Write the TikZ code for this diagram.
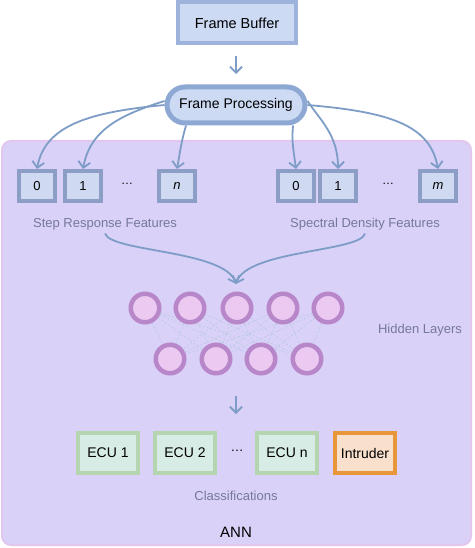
\documentclass[tikz,border=0pt]{standalone}
\usepackage{fontspec}
\setmainfont{Liberation Sans}
\usetikzlibrary{arrows.meta,backgrounds}

\definecolor{bufFill}{HTML}{CDDAF4}
\definecolor{bufLine}{HTML}{9DB3DC}
\definecolor{procLine}{HTML}{8EA8D4}
\definecolor{featFill}{HTML}{D0D9F2}
\definecolor{featLine}{HTML}{8C9EC6}
\definecolor{annFill}{HTML}{D9D1F8}
\definecolor{annLine}{HTML}{E2C6EE}
\definecolor{neuFill}{HTML}{ECC9F1}
\definecolor{neuLine}{HTML}{B887CA}
\definecolor{ecuFill}{HTML}{D8ECE6}
\definecolor{ecuLine}{HTML}{B5D5B1}
\definecolor{intrFill}{HTML}{F8E0CC}
\definecolor{intrLine}{HTML}{E8963A}
\definecolor{arrLine}{HTML}{7E9DC6}
\definecolor{lblText}{HTML}{76789A}

\tikzset{
  bufbox/.style={draw=bufLine,fill=bufFill,line width=4pt,minimum width=118pt,minimum height=41pt,font=\fontsize{14.5}{16}\selectfont},
  procbox/.style={draw=procLine,fill=bufFill,line width=5pt,rounded corners=18pt,minimum width=138pt,minimum height=36pt,inner xsep=6pt,font=\fontsize{14}{16}\selectfont},
  featbox/.style={draw=featLine,fill=featFill,line width=4pt,minimum width=36pt,minimum height=30pt,font=\fontsize{13}{15}\selectfont},
  neuron/.style={circle,draw=neuLine,fill=neuFill,line width=4.5pt,minimum size=28.5pt,inner sep=0pt},
  ecubox/.style={draw=ecuLine,fill=ecuFill,line width=4pt,minimum width=60pt,minimum height=40pt,font=\fontsize{14}{16}\selectfont},
  intrbox/.style={ecubox,draw=intrLine,fill=intrFill},
  grouplbl/.style={text=lblText,font=\fontsize{13}{15}\selectfont},
  flow/.style={draw=arrLine,line width=1.8pt,-{Straight Barb[length=6pt,width=12pt]}},
  link/.style={draw=arrLine!55,line width=0.6pt,dash pattern=on 2pt off 2pt},
}

\begin{document}
\begin{tikzpicture}[x=1pt,y=-1pt]
  \useasboundingbox (0,0) rectangle (474,548);

  % input side
  \node[bufbox] (buffer) at (237,23) {Frame Buffer};
  \node[procbox] (proc) at (236,105) {Frame Processing};
  \draw[flow] (236,56) -- (236,74);

  % feature boxes
  \node[featbox] (s0) at (37,186) {0};
  \node[featbox] (s1) at (83,186) {1};
  \node[font=\fontsize{12}{14}\selectfont] (sdots) at (127,184) {\dots};
  \node[featbox] (sn) at (177,186) {\textit{n}};
  \node[featbox] (p0) at (296,186) {0};
  \node[featbox] (p1) at (338,186) {1};
  \node[font=\fontsize{12}{14}\selectfont] (pdots) at (388,184) {\dots};
  \node[featbox] (pm) at (438,186) {\textit{m}};
  \node[grouplbl] (steplbl) at (105,224) {Step Response Features};
  \node[grouplbl] (speclbl) at (365,224) {Spectral Density Features};

  % processing -> features
  \draw[flow] (proc.west) .. controls (90,112) and (45,125) .. (s0.north);
  \draw[flow] ([yshift=4pt]proc.west) .. controls (120,115) and (90,130) .. (s1.north);
  \draw[flow] ([xshift=-50pt]proc.south) .. controls (182,140) .. (sn.north);
  \draw[flow] ([xshift=57pt]proc.south) .. controls (292,140) .. (p0.north);
  \draw[flow] ([yshift=4pt]proc.east) .. controls (320,120) and (338,135) .. (p1.north);
  \draw[flow] (proc.east) .. controls (390,112) and (430,125) .. (pm.north);

  % hidden layers
  \foreach \x [count=\i] in {145,190,237,283,328}
    \node[neuron] (h\i) at (\x,308) {};
  \foreach \x [count=\i] in {170,216,261,307}
    \node[neuron] (g\i) at (\x,359) {};
  \begin{scope}[on background layer]
    % ANN container
    \draw[annLine,fill=annFill,line width=2pt,rounded corners=9pt] (2,141) rectangle (471,545);
    \foreach \i in {1,...,5}
      \foreach \j in {1,...,4}
        \draw[link] (h\i) -- (g\j);
  \end{scope}
  \node[grouplbl] (hidlbl) at (420,330) {Hidden Layers};

  % merge
  \coordinate (merge) at (236,284);
  \draw[flow] (steplbl.south) .. controls (110,252) and (225,250) .. (merge);
  \draw[flow] (speclbl.south) .. controls (360,252) and (247,250) .. (merge);

  % classifications
  \draw[flow] (236,396) -- (236,414);
  \node[ecubox] (e1) at (108,453) {ECU 1};
  \node[ecubox] (e2) at (185,453) {ECU 2};
  \node[font=\fontsize{13}{15}\selectfont] (edots) at (237,451) {\dots};
  \node[ecubox] (en) at (287,453) {ECU n};
  \node[intrbox] (intr) at (365,453) {Intruder};
  \node[grouplbl] (clslbl) at (236,496) {Classifications};
  \node[font=\fontsize{15}{17}\selectfont] (annlbl) at (236,532) {ANN};
\end{tikzpicture}
\end{document}
